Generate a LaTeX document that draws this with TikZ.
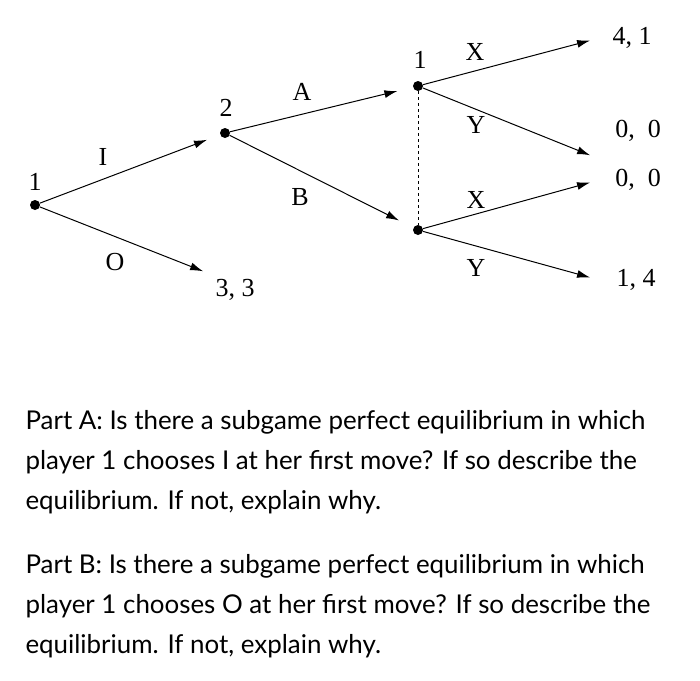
\documentclass[tikz,border=0pt]{standalone}
\usepackage{fontspec}
\setmainfont{Liberation Serif}
\newfontfamily\lato{Lato}
\usepackage{tikz}
\usetikzlibrary{arrows,arrows.meta,positioning}

\begin{document}
\begin{tikzpicture}[x=1pt, y=-1pt, font=\fontsize{26}{28}\selectfont,
    dot/.style={circle, fill, inner sep=0pt, minimum size=10pt},
    move/.style={-{Latex[length=13pt,width=8pt]}, line width=1pt, shorten >=2pt},
    para/.style={anchor=west, align=left, font=\lato\fontsize{25.9}{40}\selectfont}]
            \useasboundingbox (0,0) rectangle (700,680);
            \node[dot] (root) at (35,205) {};
            \node[dot] (p2) at (225,133) {};
            \node[dot] (up) at (418,86) {};
            \node[dot] (down) at (418,230) {};
            \coordinate (oend) at (205,272);
            \coordinate (ux) at (592,40);
            \coordinate (uy) at (592,156);
            \coordinate (dx) at (592,182);
            \coordinate (dy) at (592,278);
            
            \draw[move, shorten >=14pt] (root) -- (p2);
            \draw[move] (root) -- (oend);
            \draw[move, shorten >=16pt] (p2) -- (up);
            \draw[move, shorten >=16pt] (p2) -- (down);
            \draw[move] (up) -- (ux);
            \draw[move] (up) -- (uy);
            \draw[move] (down) -- (dx);
            \draw[move] (down) -- (dy);
            \draw[dashed, line width=0.8pt] (up) -- (down);
            
            \node (l1) at (35,182) {1};
            \node (li) at (103,157) {I};
            \node (lo) at (115,262) {O};
            \node (l2) at (226,108) {2};
            \node (la) at (302,92) {A};
            \node (lb) at (300,197) {B};
            \node (l1b) at (420,60) {1};
            \node (lx1) at (475,52) {X};
            \node (ly1) at (476,125) {Y};
            \node (lx2) at (476,200) {X};
            \node (ly2) at (476,268) {Y};
            \node (o33) at (235,290) {3, 3};
            \node (o41) at (632,38) {4, 1};
            \node (o00a) at (638,131) {0,\ \ 0};
            \node (o00b) at (638,180) {0,\ \ 0};
            \node (o14) at (636,280) {1, 4};
            
            \node[para] (pa) at (22,462) {Part A: Is there a subgame perfect equilibrium in which\\player 1 chooses I at her first move? If so describe the\\equilibrium. If not, explain why.};
            \node[para] (pb) at (22,606) {Part B: Is there a subgame perfect equilibrium in which\\player 1 chooses O at her first move? If so describe the\\equilibrium. If not, explain why.};
        \end{tikzpicture}
\end{document}
